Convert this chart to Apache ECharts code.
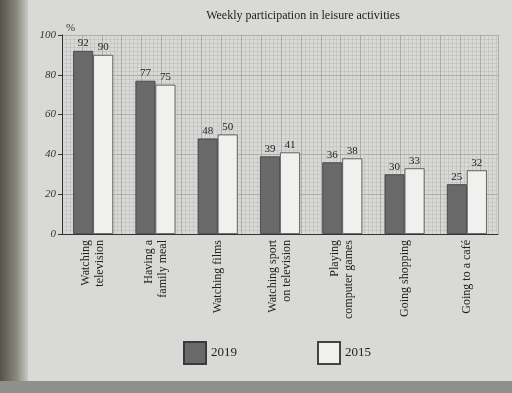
<!DOCTYPE html>
<html><head><meta charset="utf-8">
<script src="https://cdn.jsdelivr.net/npm/echarts@6/dist/echarts.min.js"></script>
<style>html,body{margin:0;padding:0;background:#d9d9d7;}#c{width:512px;height:393px;}</style>
</head><body><div id="c"></div>
<script>
const categories = ['Watching\ntelevision','Having a\nfamily meal','Watching films','Watching sport\non television','Playing\ncomputer games','Going shopping','Going to a café'];
const values2019 = [92, 77, 48, 39, 36, 30, 25];
const values2015 = [90, 75, 50, 41, 38, 33, 32];
const yTicks = [0, 20, 40, 60, 80, 100];

const chart = echarts.init(document.getElementById('c'), null, {renderer:'canvas'});
const serif = 'Liberation Serif';
chart.setOption({
  backgroundColor: '#d9d9d7',
  animation: false,
  title: {text: 'Weekly participation in leisure activities', left: 298, top: 5, textAlign: 'center',
    textStyle: {fontFamily: serif, fontSize: 12, fontWeight: 'normal', color: '#222'}},
  graphic: [
    {type: 'rect', shape: {x: 0, y: 0, width: 28, height: 393}, style: {fill: new echarts.graphic.LinearGradient(0,0,1,0,[{offset:0,color:'#55544a'},{offset:0.6,color:'#8a897f'},{offset:1,color:'#c9c9c6'}])}, z: -1},
    {type: 'rect', shape: {x: 0, y: 381, width: 512, height: 12}, style: {fill: '#8f8f8b'}, z: -1},
    {type: 'text', left: 66, top: 23, style: {text: '%', fontFamily: serif, fontSize: 11, fill: '#333'}}
  ],
  legend: {
    data: ['2019', '2015'], left: 178, top: 336, itemWidth: 22, itemHeight: 22, itemGap: 80,
    textStyle: {fontFamily: serif, fontSize: 13, color: '#222'},
    icon: 'rect'
  },
  grid: {left: 62, right: 14, top: 35, bottom: 159, containLabel: false},
  xAxis: [
    {type: 'category', data: categories,
      axisLine: {show: true, lineStyle: {color: '#333'}}, axisTick: {show: false},
      axisLabel: {rotate: 90, interval: 0, fontFamily: serif, fontSize: 12, color: '#222', lineHeight: 14, margin: 6},
      splitLine: {show: false}},
    {type: 'value', min: 0, max: 109.5, interval: 5, show: true, position: 'top',
      axisLine: {show: false}, axisTick: {show: false}, axisLabel: {show: false},
      splitLine: {show: true, lineStyle: {color: '#999', width: 0.7}},
      minorTick: {show: false, splitNumber: 5},
      minorSplitLine: {show: true, lineStyle: {color: '#b8b8b8', width: 0.5}}}
  ],
  yAxis: {type: 'value', min: 0, max: 100, interval: 20,
    axisLine: {show: true, lineStyle: {color: '#333'}},
    axisTick: {show: true, length: 4, inside: false, lineStyle: {color: '#333'}},
    axisLabel: {fontFamily: serif, fontSize: 11, fontStyle: 'italic', color: '#333', margin: 6},
    splitLine: {show: true, lineStyle: {color: '#999', width: 0.7}},
    minorTick: {show: false, splitNumber: 10},
    minorSplitLine: {show: true, lineStyle: {color: '#b8b8b8', width: 0.5}}
  },
  series: [
    {name: '2019', type: 'bar', data: values2019, barWidth: 20, barGap: '0%', xAxisIndex: 0,
      itemStyle: {color: '#696969', borderColor: '#3a3a3a', borderWidth: 0.8},
      label: {show: true, position: 'top', distance: 2, fontFamily: serif, fontSize: 11, color: '#222'}},
    {name: '2015', type: 'bar', data: values2015, barWidth: 20, xAxisIndex: 0,
      itemStyle: {color: '#f0f0ee', borderColor: '#444', borderWidth: 0.8},
      label: {show: true, position: 'top', distance: 2, fontFamily: serif, fontSize: 11, color: '#222'}}
  ]
});
</script></body></html>
